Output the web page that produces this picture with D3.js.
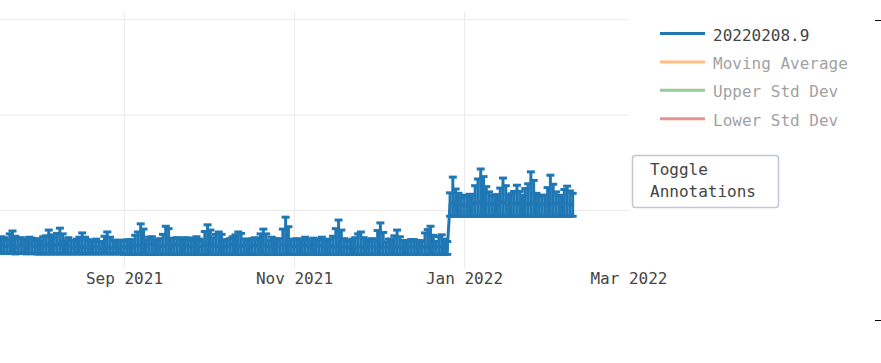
<!DOCTYPE html>
<html>
<head>
<meta charset="utf-8">
<script src="https://cdn.jsdelivr.net/npm/d3@7"></script>
<style>
  body { margin: 0; background: #fff; }
  svg text { font-family: "DejaVu Sans Mono", "Liberation Mono", monospace; }
</style>
</head>
<body>
<script>
var w = 881;
var h = 363;

// daily readings, one array per month, first day Jul 16 2021
var startDay = Date.UTC(2021, 6, 16);
var valuesJul = [12.4,12.7,12.2,12.9,12.5,12.3,12.8,12.6,12.1,12.5,12.9,12.4,12.2,12.7,12.6,12.3];
var upperJul = [1.4,1.6,1.3,1.5,1.7,1.4,2.2,3.0,2.4,1.6,1.3,1.5,1.4,1.6,1.5,1.3];
var lowerJul = [1.5,1.7,1.3,1.8,1.6,1.4,1.9,1.7,1.3,1.6,1.9,1.5,1.4,1.8,1.7,1.5];
var valuesAug = [12.5,12.2,12.8,12.4,12.9,12.3,12.6,12.7,13.0,12.4,12.2,12.6,12.3,12.1,12.5,12.2,12.4,12.0,12.3,11.9,12.2,12.4,12.0,11.8,12.2,12.3,11.9,12.1,12.4,12.0,12.2];
var upperAug = [1.5,1.3,1.6,2.2,2.9,2.5,1.7,2.4,3.2,2.6,1.4,1.6,1.3,1.5,1.4,2.1,2.8,2.3,1.5,1.6,1.3,1.5,1.4,1.6,2.3,3.1,2.4,1.5,1.3,1.6,1.4];
var lowerAug = [1.7,1.4,2.0,1.6,2.1,1.5,1.8,1.9,2.2,1.6,1.4,1.8,1.5,1.3,1.7,1.4,1.6,1.2,1.5,1.1,1.4,1.6,1.2,1.0,1.4,1.5,1.1,1.3,1.6,1.2,1.4];
var valuesSep = [12.3,12.1,12.5,12.2,12.6,12.4,12.8,12.5,12.3,12.7,12.9,12.4,12.2,12.6,12.3,12.5,12.8,12.4,12.6,12.9,12.5,12.3,12.7,12.4,12.2,12.6,12.8,12.5,12.3,12.7];
var upperSep = [1.4,1.6,1.3,1.5,2.1,3.0,4.3,3.5,1.4,1.6,1.5,1.3,1.6,1.4,2.6,4.1,3.3,1.6,1.5,1.3,1.6,1.4,1.5,1.7,1.4,1.5,1.6,1.4,1.3,2.8];
var lowerSep = [1.6,1.4,1.8,1.5,1.9,1.7,2.1,1.8,1.6,2.0,2.2,1.7,1.5,1.9,1.6,1.8,2.1,1.7,1.9,2.2,1.8,1.6,2.0,1.7,1.5,1.9,2.1,1.8,1.6,2.0];
var valuesOct = [12.6,12.4,12.8,12.5,12.3,12.7,12.4,12.2,12.6,12.9,12.5,12.3,12.7,12.4,12.6,12.2,12.5,12.8,12.3,12.6,12.9,12.4,12.2,12.7,12.5,12.3,12.6,12.8,12.7,12.4,12.5];
var upperOct = [4.3,3.4,1.4,2.4,3.1,2.2,1.3,1.6,1.4,1.5,2.3,3.1,2.4,1.5,1.3,1.6,1.5,1.4,1.6,2.4,3.1,2.6,1.4,1.6,1.5,1.3,1.4,3.2,5.8,4.1,1.4];
var lowerOct = [1.9,1.7,2.1,1.8,1.6,2.0,1.7,1.5,1.9,2.2,1.8,1.6,2.0,1.7,1.9,1.5,1.8,2.1,1.6,1.9,2.2,1.7,1.5,2.0,1.8,1.6,1.9,2.1,2.0,1.7,1.8];
var valuesNov = [12.3,12.6,12.2,12.5,12.8,12.4,12.1,12.6,12.3,12.5,12.7,12.2,12.4,12.6,12.1,12.3,12.5,12.2,12.4,12.0,12.3,12.5,12.1,12.4,12.2,12.0,12.3,12.1,12.4,12.2];
var upperNov = [1.5,1.4,1.6,1.3,1.5,1.4,1.6,1.5,1.3,1.4,1.6,1.5,1.4,1.3,2.4,3.8,5.4,3.6,1.6,1.5,1.3,1.4,2.1,2.6,3.2,2.2,1.5,1.3,1.6,1.4];
var lowerNov = [1.6,1.9,1.5,1.8,2.1,1.7,1.4,1.9,1.6,1.8,2.0,1.5,1.7,1.9,1.4,1.6,1.8,1.5,1.7,1.3,1.6,1.8,1.4,1.7,1.5,1.3,1.6,1.4,1.7,1.5];
var valuesDec = [12.1,12.4,12.2,12.0,12.3,12.5,12.1,12.4,12.2,12.0,12.3,12.1,12.4,12.2,12.0,12.3,12.1,12.4,12.2,12.0,12.3,12.1,12.4,12.2,12.0,11.9,21.3,21.8,21.0,21.5,20.9];
var upperDec = [3.6,4.9,3.1,1.3,1.6,1.4,2.5,3.4,2.2,1.6,1.3,1.5,1.4,1.6,1.5,1.3,1.4,2.8,3.7,4.6,2.4,1.3,2.0,2.6,1.9,1.5,2.3,5.1,3.4,2.0,1.7];
var lowerDec = [1.4,1.7,1.5,1.3,1.6,1.8,1.4,1.7,1.5,1.3,1.6,1.4,1.7,1.5,1.3,1.6,1.4,1.7,1.5,1.3,1.6,1.4,1.7,1.5,1.3,1.2,2.6,3.1,2.3,2.8,2.2];
var valuesJan = [21.2,20.8,21.5,21.0,21.7,21.3,21.9,21.4,21.1,21.6,21.0,21.3,20.9,21.5,21.8,21.2,20.9,21.4,21.1,21.6,21.0,21.3,21.5,20.9,21.7,21.2,21.4,20.8,21.3,21.1,21.5];
var upperJan = [1.9,2.1,1.8,2.2,3.4,5.2,6.7,5.6,3.8,2.2,2.0,1.9,2.3,3.1,4.9,3.9,2.2,2.0,2.8,3.6,2.9,1.8,3.0,4.6,6.3,5.0,2.1,2.2,1.8,2.0,3.2];
var lowerJan = [2.5,2.1,2.8,2.3,3.0,2.6,3.2,2.7,2.4,2.9,2.3,2.6,2.2,2.8,3.1,2.5,2.2,2.7,2.4,2.9,2.3,2.6,2.8,2.2,3.0,2.5,2.7,2.1,2.6,2.4,2.8];
var valuesFeb = [21.4,21.0,21.6,21.2,20.9,21.5,21.3,21.1,21.4];
var upperFeb = [5.9,4.4,2.2,1.9,2.1,2.8,3.7,2.9,2.1];
var lowerFeb = [2.7,2.3,2.9,2.5,2.2,2.8,2.6,2.4,2.7];

var xTicks = [Date.UTC(2021, 8, 1), Date.UTC(2021, 10, 1), Date.UTC(2022, 0, 1), Date.UTC(2022, 2, 1)];
var yTicks = [20, 40, 60];

var legendNames = ["20220208.9", "Moving Average", "Upper Std Dev", "Lower Std Dev"];
var legendColors = ["#1f77b4", "#ff7f0e", "#2ca02c", "#d62728"];
var legendVisible = [true, false, false, false];

var values = [].concat(valuesJul, valuesAug, valuesSep, valuesOct, valuesNov, valuesDec, valuesJan, valuesFeb);
var uppers = [].concat(upperJul, upperAug, upperSep, upperOct, upperNov, upperDec, upperJan, upperFeb);
var lowers = [].concat(lowerJul, lowerAug, lowerSep, lowerOct, lowerNov, lowerDec, lowerJan, lowerFeb);
var data = values.map(function (v, i) {
    return { date: d3.utcDay.offset(new Date(startDay), i), value: v, hi: v + uppers[i], lo: v - lowers[i] };
});

var plotLeft = 0, plotRight = 629, plotTop = 12, plotBottom = 268;

var x = d3.scaleUtc()
    .domain([new Date(Date.UTC(2021, 6, 18, 12, 14)), new Date(Date.UTC(2022, 2, 1, 5, 0))])
    .range([plotLeft, plotRight]);
var y = d3.scaleLinear()
    .domain([7.85, 61.5])
    .range([plotBottom, plotTop]);

var svg = d3.select("body").append("svg")
    .attr("width", w)
    .attr("height", h);

svg.append("defs").append("clipPath")
    .attr("id", "plotclip")
    .append("rect")
    .attr("x", plotLeft)
    .attr("y", plotTop)
    .attr("width", plotRight - plotLeft)
    .attr("height", plotBottom - plotTop);

//---grid-----
var inner = xTicks.filter(function (t) { return x(t) < plotRight - 2; });
svg.append("g")
    .attr("transform", "translate(0," + plotBottom + ")")
    .call(d3.axisBottom(x).tickValues(inner.map(function (t) { return new Date(t); }))
        .tickSize(-(plotBottom - plotTop)).tickFormat(""))
    .call(function (g) { g.select(".domain").remove(); })
    .selectAll("line")
    .attr("stroke", "#ebebeb")
    .attr("stroke-width", 1);

svg.append("g")
    .attr("transform", "translate(" + plotLeft + ",0)")
    .call(d3.axisLeft(y).tickValues(yTicks).tickSize(-(plotRight - plotLeft)).tickFormat(""))
    .call(function (g) { g.select(".domain").remove(); })
    .selectAll("line")
    .attr("stroke", "#ebebeb")
    .attr("stroke-width", 1);

//---x labels-----
var xAxis = svg.append("g")
    .attr("transform", "translate(0," + plotBottom + ")")
    .call(d3.axisBottom(x).tickValues(xTicks.map(function (t) { return new Date(t); }))
        .tickSize(0).tickPadding(6).tickFormat(d3.utcFormat("%b %Y")));
xAxis.select(".domain").remove();
xAxis.selectAll("text")
    .attr("font-family", "DejaVu Sans Mono")
    .attr("font-size", 16)
    .attr("fill", "#444")
    .attr("dy", "0.6em");

//---series-----
var plot = svg.append("g").attr("clip-path", "url(#plotclip)");
var blue = "#1f77b4";

var bars = plot.append("g")
    .attr("stroke", blue)
    .attr("stroke-width", 3)
    .selectAll("g")
    .data(data)
    .enter().append("g");
bars.append("line")
    .attr("x1", function (d) { return x(d.date); })
    .attr("x2", function (d) { return x(d.date); })
    .attr("y1", function (d) { return y(d.lo); })
    .attr("y2", function (d) { return y(d.hi); });
bars.append("line")
    .attr("x1", function (d) { return x(d.date) - 4; })
    .attr("x2", function (d) { return x(d.date) + 4; })
    .attr("y1", function (d) { return y(d.hi); })
    .attr("y2", function (d) { return y(d.hi); });
bars.append("line")
    .attr("x1", function (d) { return x(d.date) - 4; })
    .attr("x2", function (d) { return x(d.date) + 4; })
    .attr("y1", function (d) { return y(d.lo); })
    .attr("y2", function (d) { return y(d.lo); });

plot.append("path")
    .datum(data)
    .attr("fill", "none")
    .attr("stroke", blue)
    .attr("stroke-width", 3)
    .attr("d", d3.line()
        .x(function (d) { return x(d.date); })
        .y(function (d) { return y(d.value); }));

//---legend-----
var legend = svg.append("g")
    .selectAll("g")
    .data(legendNames)
    .enter().append("g")
    .attr("transform", function (d, i) { return "translate(660," + (33.5 + i * 28.4) + ")"; })
    .attr("opacity", function (d, i) { return legendVisible[i] ? 1 : 0.5; });
legend.append("line")
    .attr("x1", 0)
    .attr("x2", 45)
    .attr("stroke", function (d, i) { return legendColors[i]; })
    .attr("stroke-width", 3);
legend.append("text")
    .text(function (d) { return d; })
    .attr("x", 53)
    .attr("y", 7)
    .attr("font-size", 16)
    .attr("fill", "#444");

//---button-----
svg.append("rect")
    .attr("x", 632.5)
    .attr("y", 155.5)
    .attr("width", 146)
    .attr("height", 52)
    .attr("rx", 3)
    .attr("fill", "#fff")
    .attr("stroke", "#bec8d9")
    .attr("stroke-width", 1.5);
svg.append("text")
    .text("Toggle")
    .attr("x", 650)
    .attr("y", 175)
    .attr("font-size", 16)
    .attr("fill", "#444");
svg.append("text")
    .text("Annotations")
    .attr("x", 650)
    .attr("y", 197)
    .attr("font-size", 16)
    .attr("fill", "#444");

//---edge marks-----
svg.append("line").attr("x1", 875).attr("x2", 881).attr("y1", 20.5).attr("y2", 20.5).attr("stroke", "#000");
svg.append("line").attr("x1", 875).attr("x2", 881).attr("y1", 320.5).attr("y2", 320.5).attr("stroke", "#000");
</script>
</body>
</html>
